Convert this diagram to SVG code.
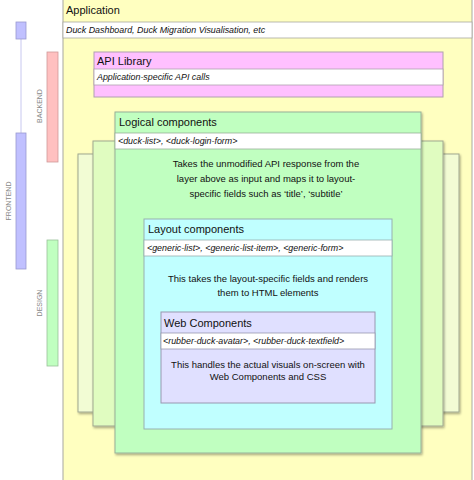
<svg xmlns="http://www.w3.org/2000/svg" width="474" height="480" viewBox="0 0 474 480">
<defs>
<filter id="sh" x="-10%" y="-10%" width="120%" height="120%">
<feDropShadow dx="1" dy="1.5" stdDeviation="0.8" flood-color="#000" flood-opacity="0.35"/>
</filter>
<style>
text{font-family:"Liberation Sans",Arial,sans-serif;fill:#111}
.t{font-size:11px}
.i{font-size:8.9px;font-style:italic}
.d{font-size:9.5px;text-anchor:middle}
.side{font-size:7px;fill:#888;text-anchor:middle}
.w{fill:#fff}
</style>
</defs>
<rect width="474" height="480" fill="#fff"/>
<g id="legend">
<line x1="21" y1="39" x2="21" y2="133" stroke="#c8c8f0" stroke-width="1"/>
<rect x="16" y="22" width="10" height="17" fill="#c0c0ff" stroke="#9a9ad0" stroke-width="0.8"/>
<rect x="16" y="133" width="10" height="136" fill="#c0c0ff" stroke="#9a9ad0" stroke-width="0.8"/>
<rect x="47" y="52" width="11" height="110" fill="#ffc0c0" stroke="#d09a9a" stroke-width="0.8"/>
<rect x="47" y="240" width="11" height="126" fill="#c0ffc0" stroke="#9ac09a" stroke-width="0.8"/>
<text class="side" transform="translate(10.5,201) rotate(-90)">FRONTEND</text>
<text class="side" transform="translate(41.5,106) rotate(-90)">BACKEND</text>
<text class="side" transform="translate(41.5,303) rotate(-90)">DESIGN</text>
</g>
<g id="application">
<rect x="63" y="-2" width="409" height="490" fill="#ffffc0" stroke="#a8a8a0" stroke-width="1"/>
<text class="t" x="66" y="14">Application</text>
<rect x="63" y="22" width="409" height="16" class="w" stroke="#a8a8a0" stroke-width="0.8"/>
<text class="i" x="66" y="33">Duck Dashboard, Duck Migration Visualisation, etc</text>
</g>
<g id="api-library">
<rect x="94" y="52" width="349" height="45" fill="#ffc0ff" stroke="#b0a0b0" stroke-width="1"/>
<rect x="94" y="69" width="349" height="16" class="w" stroke="#b0a0b0" stroke-width="0.8"/>
<text class="t" x="97" y="65">API Library</text>
<text class="i" x="97" y="80">Application-specific API calls</text>
</g>
<g id="layer-back-2" filter="url(#sh)">
<rect x="78" y="154" width="381" height="258" fill="#f2fcd4" stroke="#a0a890" stroke-width="1"/>
</g>
<g id="layer-back-1" filter="url(#sh)">
<rect x="93" y="141" width="350" height="285" fill="#e0fcc0" stroke="#a0a890" stroke-width="1"/>
</g>
<g id="logical-components">
<rect x="115" y="112" width="306" height="341" fill="#c0ffc0" stroke="#98b098" stroke-width="1" filter="url(#sh)"/>
<rect x="115" y="133" width="306" height="16" class="w" stroke="#98b098" stroke-width="0.8"/>
<text class="t" x="119" y="126">Logical components</text>
<text class="i" x="118" y="144">&lt;duck-list&gt;, &lt;duck-login-form&gt;</text>
<text class="d" x="266" y="167">Takes the unmodified API response from the</text>
<text class="d" x="266" y="182">layer above as input and maps it to layout-</text>
<text class="d" x="266" y="197">specific fields such as ‘title’, ‘subtitle’</text>
</g>
<g id="layout-components">
<rect x="144" y="219" width="248" height="210" fill="#c0ffff" stroke="#98b0b0" stroke-width="1"/>
<rect x="144" y="240" width="248" height="16" class="w" stroke="#98b0b0" stroke-width="0.8"/>
<text class="t" x="148" y="233">Layout components</text>
<text class="i" x="147" y="251">&lt;generic-list&gt;, &lt;generic-list-item&gt;, &lt;generic-form&gt;</text>
<text class="d" x="268" y="282">This takes the layout-specific fields and renders</text>
<text class="d" x="268" y="296">them to HTML elements</text>
</g>
<g id="web-components">
<rect x="161" y="312" width="214" height="91" fill="#e0e0ff" stroke="#9898b0" stroke-width="1"/>
<rect x="161" y="333" width="214" height="16" class="w" stroke="#9898b0" stroke-width="0.8"/>
<text class="t" x="164" y="327">Web Components</text>
<text class="i" x="163" y="344">&lt;rubber-duck-avatar&gt;, &lt;rubber-duck-textfield&gt;</text>
<text class="d" x="268" y="368">This handles the actual visuals on-screen with</text>
<text class="d" x="268" y="380">Web Components and CSS</text>
</g>
<g id="connectors"></g>
</svg>
